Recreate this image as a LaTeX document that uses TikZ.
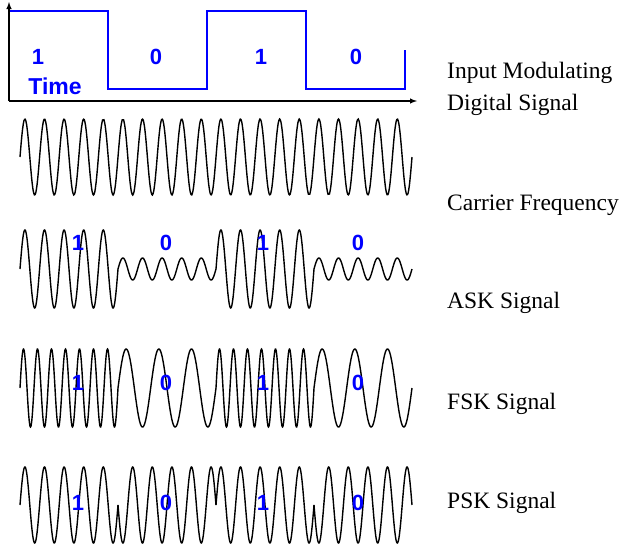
\documentclass[tikz,border=0pt]{standalone}
\usepackage{fontspec}
\setmainfont{Liberation Serif}
\newfontfamily\arialf{Liberation Sans}
\begin{document}
\begin{tikzpicture}[x=1pt,y=-1pt,
  bit/.style={text=blue,font=\arialf\bfseries\fontsize{22}{22}\selectfont,inner sep=0pt},
  lab/.style={anchor=west,font=\fontsize{23.5}{25}\selectfont,inner sep=0pt},
  wave/.style={black,line width=1.4pt,samples=300,smooth},
  sq/.style={blue,line width=1.5pt}]
\useasboundingbox[fill=white] (0,0) rectangle (638,547);
% axes
\coordinate (o) at (9,101);
\coordinate (yt) at (9,2);
\coordinate (xt) at (417,101);
\draw[line width=1.4pt,-latex] (o) -- (yt);
\draw[line width=1.4pt,-latex] (o) -- (xt);
% square wave
\draw[sq] (10,11) -- (108,11) -- (108,89) -- (207,89) -- (207,11) -- (306,11) -- (306,89) -- (405,89) -- (405,50);
\node[bit] (b1) at (38,57) {1};
\node[bit] (b2) at (156,57) {0};
\node[bit] (b3) at (261,57) {1};
\node[bit] (b4) at (356,57) {0};
\node[bit,font=\arialf\bfseries\fontsize{23}{23}\selectfont] (time) at (55,86) {Time};
% carrier
\draw[wave] plot[domain=20:412] (\x,{157-38*sin(18.3673*(\x-20))});
% ASK
\draw[wave] plot[domain=20:118] (\x,{269-39*sin(18.3673*(\x-20))});
\draw[wave] plot[domain=118:216] (\x,{269-11*sin(18.3673*(\x-20))});
\draw[wave] plot[domain=216:314] (\x,{269-39*sin(18.3673*(\x-20))});
\draw[wave] plot[domain=314:412] (\x,{269-11*sin(18.3673*(\x-20))});
% FSK
\draw[wave] plot[domain=20:118] (\x,{388-39*sin(25.7143*(\x-20))});
\draw[wave] plot[domain=118:216] (\x,{388-39*sin(11.0204*(\x-118))});
\draw[wave] plot[domain=216:314] (\x,{388-39*sin(25.7143*(\x-216))});
\draw[wave] plot[domain=314:412] (\x,{388-39*sin(11.0204*(\x-314))});
% PSK
\draw[wave] plot[domain=20:118] (\x,{505-38*sin(18.3673*(\x-20))});
\draw[wave] plot[domain=118:216] (\x,{505+38*sin(18.3673*(\x-20))});
\draw[wave] plot[domain=216:314] (\x,{505-38*sin(18.3673*(\x-20))});
\draw[wave] plot[domain=314:412] (\x,{505+38*sin(18.3673*(\x-20))});
% wave bit labels
\foreach \yy/\nm in {243/a,383/f,503/p}{
  \node[bit] (\nm1) at (78,\yy) {1};
  \node[bit] (\nm2) at (166,\yy) {0};
  \node[bit] (\nm3) at (263,\yy) {1};
  \node[bit] (\nm4) at (358,\yy) {0};
}
% right labels
\node[lab] (l1) at (447,73) {Input Modulating};
\node[lab] (l2) at (447,105) {Digital Signal};
\node[lab] (l3) at (447,205) {Carrier Frequency};
\node[lab] (l4) at (447,303) {ASK Signal};
\node[lab] (l5) at (447,404) {FSK Signal};
\node[lab] (l6) at (447,503) {PSK Signal};
\end{tikzpicture}
\end{document}
